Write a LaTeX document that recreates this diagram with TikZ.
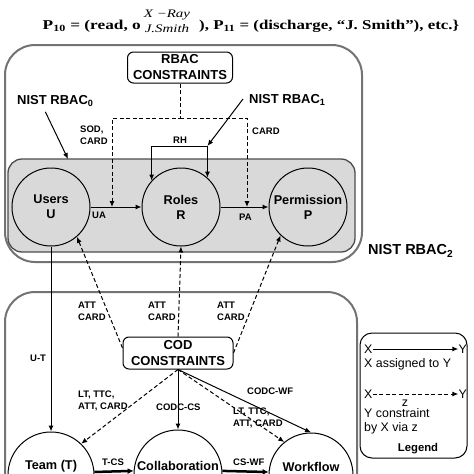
\documentclass[tikz,border=0pt]{standalone}
\usepackage{fontspec}
\setmainfont{Liberation Sans}
\newfontfamily\hdrfont{Liberation Serif}
\usetikzlibrary{arrows.meta,calc}
\begin{document}
\begin{tikzpicture}[x=1pt,y=-1pt]
\tikzset{
 circ/.style={circle,draw,line width=1pt,minimum size=78pt,inner sep=0pt,align=center,font=\bfseries\fontsize{12.7}{15}\selectfont},
 lbl/.style={inner sep=0pt,align=left,anchor=west,font=\bfseries\fontsize{9.5}{12}\selectfont},
 arr/.style={line width=1pt,-{Latex[length=6pt,width=5pt]}},
 darr/.style={arr,dash pattern=on 4pt off 2.5pt},
 conbox/.style={draw,rounded corners=6pt,line width=1pt,fill=white,align=center,inner sep=2pt,font=\bfseries\fontsize{13}{16}\selectfont},
 big/.style={inner sep=0pt,anchor=west,font=\bfseries\fontsize{13}{15}\selectfont},
 legtxt/.style={inner sep=0pt,anchor=west,font=\fontsize{12.4}{14}\selectfont},
 hdr/.style={inner sep=0pt,font=\hdrfont\bfseries\fontsize{13.5}{15}\selectfont},
 hdrit/.style={inner sep=0pt,font=\hdrfont\itshape\fontsize{11.5}{13}\selectfont},
 region/.style={draw=black!55,line width=2pt,rounded corners=30pt},
}
\useasboundingbox (0,0) rectangle (474,474);
\clip (0,0) rectangle (474,474);
\fill[white] (0,0) rectangle (474,474);

% header
\node[hdr,anchor=base east] (h1) at (141,29) {\scalebox{1.28}[1]{P\textsubscript{10} = (read, o}};
\node[hdrit,anchor=base] (hx) at (167,17) {\scalebox{1.3}[1]{X −Ray}};
\node[hdrit,anchor=base] (hj) at (167,32) {\scalebox{1.3}[1]{J.Smith}};
\node[hdr,anchor=base west] (h2) at (199,29) {\scalebox{1.25}[1]{), P\textsubscript{11} = (discharge, “J. Smith”), etc.\}}};

% RBAC2 region
\draw[region] (5,45) rectangle (362,262);
\node[draw=black!70,fill=black!15,line width=1.3pt,rounded corners=14pt,minimum width=347pt,minimum height=93pt,inner sep=0pt] (g0) at (181.5,205.5) {};

\node[circ] (U) at (51,207) {Users\\U};
\node[circ] (R) at (181,207) {Roles\\R};
\node[circ] (P) at (308,207) {Permission\\P};

\node[conbox,minimum width=105pt,minimum height=31pt] (RC) at (180,67.5) {RBAC\\CONSTRAINTS};

\draw[arr] (U.east) -- (R.west);
\draw[arr] (R.east) -- (P.west);
\coordinate (rh) at (0,146);
\draw[line width=1pt,{Latex[length=6pt,width=5pt]}-{Latex[length=6pt,width=5pt]}] (R.138) -- (R.138 |- rh) -| (R.48);
\node[lbl,anchor=center] (rhl) at (180,140) {RH};

\coordinate (dl) at (112,118);
\coordinate (dr) at (247,118);
\coordinate (uapt) at (dl |- U.east);
\coordinate (papt) at (dr |- P.west);
\draw[darr] (RC.south) -- (RC.south |- dl) -| (uapt);
\draw[darr] (RC.south |- dl) -| (papt);

\node[lbl] (sod) at (80,135) {SOD,\\CARD};
\node[lbl] (card1) at (252,131) {CARD};
\node[lbl] (ua) at (92,215) {UA};
\node[lbl] (pa) at (239,217) {PA};

\node[big] (n0) at (17,101) {NIST RBAC\textsubscript{0}};
\node[big] (n1) at (249,100) {NIST RBAC\textsubscript{1}};
\coordinate (t0) at (68,159);
\draw[arr] ([xshift=-10pt,yshift=-5pt]n0.south) -- (t0);
\draw[arr] ([xshift=-6pt,yshift=1pt]n1.west) -- (R.48 |- rh);
\node[big,font=\bfseries\fontsize{14.5}{16}\selectfont] (n2) at (368,251) {NIST RBAC\textsubscript{2}};

% COD region
\draw[region] (5,500) -- (5,292) -- (357,292) -- (357,500);
\node[conbox,minimum width=110pt,minimum height=32pt] (CC) at (178,353) {COD\\CONSTRAINTS};

\node[circ,minimum size=86pt] (T) at (51,475) {};
\node[circ,minimum size=88pt] (CS) at (178,474) {};
\node[circ,minimum size=84pt] (W) at (311,475) {};
\node[inner sep=0pt,font=\bfseries\fontsize{12.7}{15}\selectfont] (tt) at (51,466) {Team (T)};
\node[inner sep=0pt,font=\bfseries\fontsize{12.7}{15}\selectfont] (cst) at (178,466) {Collaboration};
\node[inner sep=0pt,font=\bfseries\fontsize{12.7}{15}\selectfont] (wt) at (311,467) {Workflow};

\draw[darr] ([yshift=5pt]CC.west) -- (U.-49);
\draw[darr] (CC.north) -- (R.south);
\draw[darr] (CC.east) -- (P.-134);
\draw[arr] (U.south) -- (T.north);
\draw[darr] (CC.south) -- (T.46);
\draw[arr] (CC.south) -- (CS.north);
\draw[darr] (CC.south) -- (W.129);
\draw[arr] (CC.south) -- (W.north);
\draw[line width=2.5pt,-{Latex[length=6pt,width=6pt]}] (T.4) -- (CS.176);
\draw[line width=2.5pt,-{Latex[length=6pt,width=6pt]}] (CS.4) -- (W.176);

\node[lbl] (att1) at (78,311) {ATT\\CARD};
\node[lbl] (att2) at (148,311) {ATT\\CARD};
\node[lbl] (att3) at (217,311) {ATT\\CARD};
\node[lbl] (ut) at (30,358) {U-T};
\node[lbl] (lt1) at (78,401) {LT, TTC,\\ATT, CARD};
\node[lbl] (codccs) at (156,407) {CODC-CS};
\node[lbl] (codcwf) at (247,391) {CODC-WF};
\node[lbl] (lt2) at (233,418) {LT, TTC,\\ATT, CARD};
\node[lbl] (tcs) at (102,462) {T-CS};
\node[lbl] (cswf) at (233,462) {CS-WF};

% legend
\node[draw,line width=1pt,rounded corners=12pt,minimum width=107pt,minimum height=125pt,inner sep=0pt] (leg) at (413.5,395.5) {};
\node[legtxt] (lx1) at (364,349) {X};
\node[legtxt,anchor=east] (ly1) at (467,349) {Y};
\draw[arr] (lx1.east) -- (ly1.west);
\node[legtxt] (la) at (364,364) {X assigned to Y};
\node[legtxt] (lx2) at (364,394) {X};
\node[legtxt,anchor=east] (ly2) at (467,394) {Y};
\draw[darr] (lx2.east) -- (ly2.west);
\node[legtxt,anchor=center] (lz) at (405,403) {z};
\node[legtxt] (lc) at (364,413) {Y constraint};
\node[legtxt] (lb) at (364,428) {by X via z};
\node[inner sep=0pt,font=\bfseries\fontsize{11.3}{13}\selectfont] (ll) at (418,449) {Legend};
\end{tikzpicture}
\end{document}
